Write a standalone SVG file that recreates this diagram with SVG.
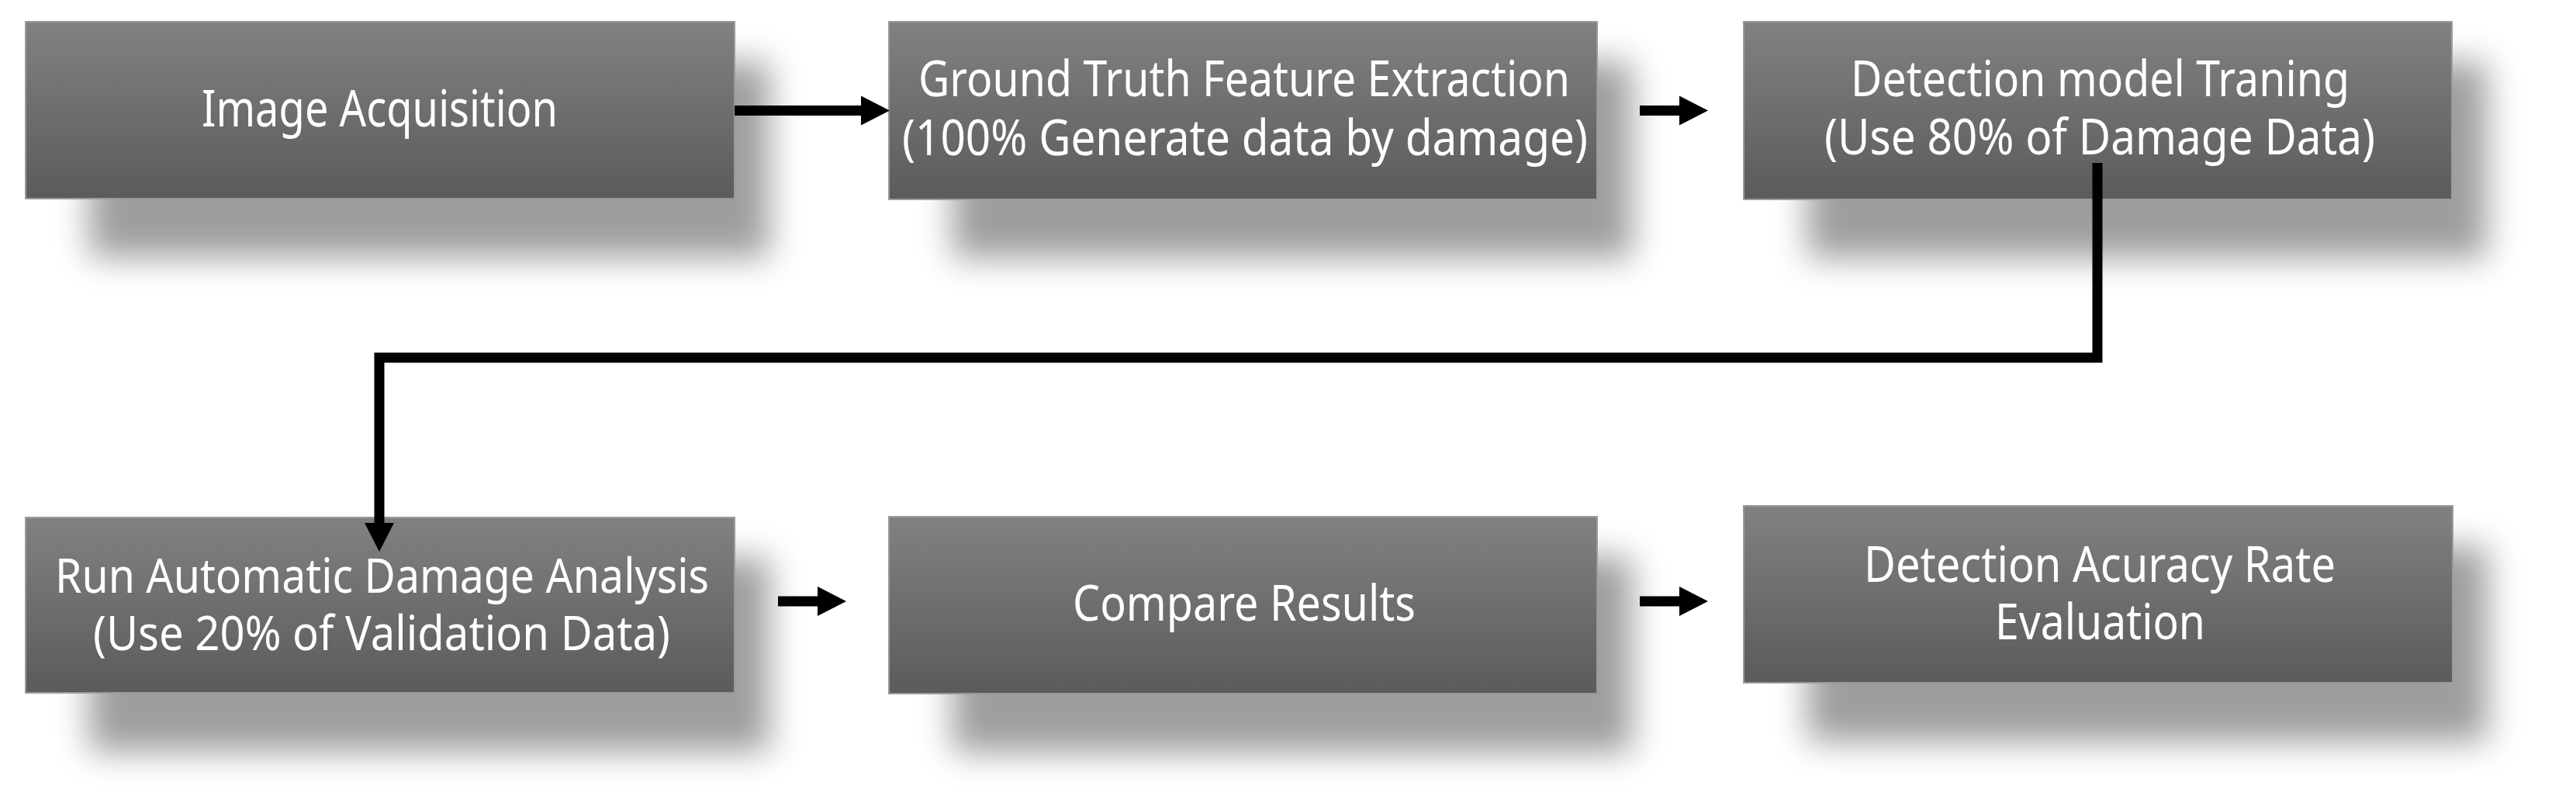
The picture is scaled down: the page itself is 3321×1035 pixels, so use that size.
<svg xmlns="http://www.w3.org/2000/svg" width="3321" height="1035" viewBox="0 0 3321 1035">
<defs>
  <linearGradient id="boxFill" x1="0" y1="0" x2="0" y2="1">
    <stop offset="0" stop-color="#818181"/>
    <stop offset="1" stop-color="#5b5b5b"/>
  </linearGradient>
  <filter id="soft" x="-20%" y="-40%" width="140%" height="180%">
    <feGaussianBlur stdDeviation="22"/>
  </filter>
  <marker id="head" markerUnits="userSpaceOnUse" markerWidth="38" markerHeight="38" refX="0" refY="19" orient="auto" viewBox="0 0 38 38">
    <path d="M0,0 L37,19 L0,38 z" fill="#000"/>
  </marker>
</defs>
<style>
  .box{fill:url(#boxFill);stroke:#9a9a9a;stroke-width:2}
  .shadow{fill:#000;opacity:0.38;filter:url(#soft)}
  .lbl{font-family:"Noto Sans","Open Sans",sans-serif;fill:#fff;font-size:64px}
  .conn{fill:none;stroke:#000;stroke-width:13;stroke-linejoin:miter}
</style>
<rect width="3321" height="1035" fill="#fff"/>

<g id="n1">
  <rect class="shadow" x="115" y="80" width="877" height="252"/>
  <rect class="box" x="33" y="28" width="914" height="228"/>
  <text class="lbl" x="260" y="163" textLength="459" lengthAdjust="spacingAndGlyphs" style="font-size:66px">Image Acquisition</text>
</g>
<g id="n2">
  <rect class="shadow" x="1228" y="80" width="876" height="253"/>
  <rect class="box" x="1146" y="28" width="913" height="229"/>
  <text class="lbl" x="1184" y="124" textLength="840" lengthAdjust="spacingAndGlyphs">Ground Truth Feature Extraction</text>
  <text class="lbl" x="1163" y="200" textLength="884" lengthAdjust="spacingAndGlyphs">(100% Generate data by damage)</text>
</g>
<g id="n3">
  <rect class="shadow" x="2330" y="80" width="876" height="253"/>
  <rect class="box" x="2248" y="28" width="913" height="229"/>
  <text class="lbl" x="2386" y="124" textLength="643" lengthAdjust="spacingAndGlyphs">Detection model Traning</text>
  <text class="lbl" x="2352" y="199" textLength="710" lengthAdjust="spacingAndGlyphs">(Use 80% of Damage Data)</text>
</g>
<g id="n4">
  <rect class="shadow" x="115" y="719" width="877" height="250"/>
  <rect class="box" x="33" y="667" width="914" height="226"/>
  <text class="lbl" x="71" y="764" textLength="843" lengthAdjust="spacingAndGlyphs" style="font-size:62px">Run Automatic Damage Analysis</text>
  <text class="lbl" x="120" y="838" textLength="744" lengthAdjust="spacingAndGlyphs" style="font-size:62px">(Use 20% of Validation Data)</text>
</g>
<g id="n5">
  <rect class="shadow" x="1228" y="718" width="876" height="252"/>
  <rect class="box" x="1146" y="666" width="913" height="228"/>
  <text class="lbl" x="1383" y="800" textLength="442" lengthAdjust="spacingAndGlyphs">Compare Results</text>
</g>
<g id="n6">
  <rect class="shadow" x="2330" y="704" width="877" height="252"/>
  <rect class="box" x="2248" y="652" width="914" height="228"/>
  <text class="lbl" x="2403" y="750" textLength="608" lengthAdjust="spacingAndGlyphs">Detection Acuracy Rate</text>
  <text class="lbl" x="2572" y="824" textLength="271" lengthAdjust="spacingAndGlyphs">Evaluation</text>
</g>

<g id="connectors">
  <path class="conn" d="M947,142.5 H1110" marker-end="url(#head)"/>
  <path class="conn" d="M2114,142.5 H2165" marker-end="url(#head)"/>
  <path class="conn" d="M2704,210 V461 H489 V674" marker-end="url(#head)"/>
  <path class="conn" d="M1003,775 H1054" marker-end="url(#head)"/>
  <path class="conn" d="M2114,775 H2165" marker-end="url(#head)"/>
</g>
</svg>
